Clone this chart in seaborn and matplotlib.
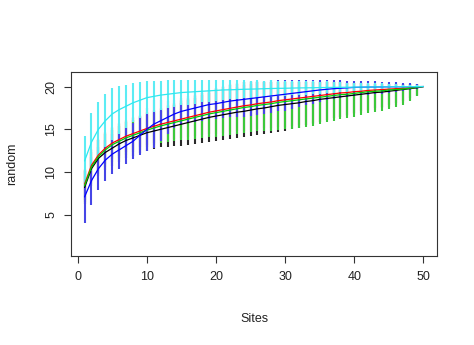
import matplotlib
matplotlib.use("Agg")
import matplotlib.pyplot as plt
import seaborn as sns
import pandas as pd

sites = list(range(1, 51))

series_names = ["black", "red", "green", "blue", "cyan"]
line_colors = ["#000000", "#ff0000", "#00cd00", "#0000ff", "#2ee8f0"]
bar_colors = ["#2a2a2a", "#f04040", "#3cc83c", "#4646e6", "#5cecf4"]

black_mean = [8.2, 10.4, 11.6, 12.3, 12.8, 13.3, 13.7, 14.0, 14.3, 14.6, 14.8, 15.0, 15.2, 15.4, 15.6, 15.8, 16.0, 16.2, 16.4, 16.55,
              16.7, 16.85, 17.0, 17.1, 17.25, 17.4, 17.5, 17.65, 17.8, 17.9, 18.0, 18.1, 18.25, 18.35, 18.5, 18.6, 18.7, 18.8, 18.9, 19.0,
              19.1, 19.2, 19.3, 19.35, 19.45, 19.55, 19.65, 19.75, 19.85, 20.0]
black_lo = [6.3, 8.4, 9.5, 10.2, 10.7, 11.2, 11.6, 11.9, 12.2, 12.5, 12.7, 12.9, 12.9, 13.0, 13.1, 13.2, 13.3, 13.4, 13.5, 13.6,
            13.7, 13.85, 14.0, 14.05, 14.2, 14.3, 14.4, 14.55, 14.7, 14.8, 15.0, 15.2, 15.45, 15.65, 15.9, 16.1, 16.3, 16.5, 16.7, 16.9,
            17.1, 17.3, 17.5, 17.65, 17.85, 18.05, 18.35, 18.65, 18.95, 20.0]
black_hi = [10.1, 12.4, 13.7, 14.4, 14.9, 15.4, 15.8, 16.1, 16.4, 16.7, 16.9, 17.1, 17.5, 17.8, 18.1, 18.4, 18.7, 19.0, 19.3, 19.5,
            19.7, 19.85, 20.0, 20.15, 20.3, 20.5, 20.55, 20.55, 20.55, 20.55, 20.55, 20.55, 20.55, 20.55, 20.55, 20.5, 20.5, 20.5, 20.45, 20.4,
            20.4, 20.35, 20.3, 20.3, 20.3, 20.3, 20.3, 20.3, 20.3, 20.0]

red_mean = [8.6, 10.8, 12.0, 12.8, 13.4, 13.8, 14.2, 14.5, 14.8, 15.1, 15.35, 15.6, 15.8, 16.0, 16.2, 16.4, 16.6, 16.8, 17.0, 17.15,
            17.3, 17.45, 17.6, 17.75, 17.85, 18.0, 18.1, 18.2, 18.35, 18.45, 18.55, 18.65, 18.75, 18.85, 18.95, 19.05, 19.15, 19.25, 19.3, 19.4,
            19.45, 19.55, 19.6, 19.65, 19.7, 19.75, 19.8, 19.85, 19.9, 20.0]
red_lo = [6.8, 8.9, 10.1, 10.9, 11.5, 11.9, 12.3, 12.6, 12.9, 13.2, 13.45, 13.7, 13.8, 13.9, 14.0, 14.1, 14.2, 14.3, 14.4, 14.45,
          14.55, 14.65, 14.75, 14.85, 14.95, 15.05, 15.1, 15.15, 15.25, 15.3, 15.35, 15.45, 15.55, 15.7, 15.9, 16.1, 16.3, 16.5, 16.6, 16.8,
          16.95, 17.15, 17.3, 17.45, 17.6, 17.85, 18.1, 18.45, 19.0, 20.0]
red_hi = [10.4, 12.7, 13.9, 14.7, 15.3, 15.7, 16.1, 16.4, 16.7, 17.0, 17.25, 17.5, 17.8, 18.1, 18.4, 18.7, 19.0, 19.3, 19.6, 19.85,
          20.05, 20.25, 20.45, 20.55, 20.55, 20.55, 20.55, 20.55, 20.55, 20.55, 20.55, 20.55, 20.55, 20.55, 20.55, 20.5, 20.5, 20.5, 20.45, 20.4,
          20.4, 20.35, 20.3, 20.3, 20.3, 20.3, 20.3, 20.3, 20.3, 20.0]

green_mean = [8.4, 10.6, 11.8, 12.6, 13.2, 13.6, 14.0, 14.3, 14.6, 14.9, 15.15, 15.4, 15.6, 15.8, 16.0, 16.2, 16.4, 16.6, 16.8, 16.95,
              17.1, 17.25, 17.4, 17.55, 17.65, 17.8, 17.9, 18.0, 18.15, 18.25, 18.35, 18.45, 18.55, 18.65, 18.75, 18.85, 18.95, 19.05, 19.1, 19.2,
              19.3, 19.4, 19.45, 19.5, 19.6, 19.65, 19.7, 19.8, 19.9, 20.0]
green_lo = [6.5, 8.6, 9.8, 10.6, 11.2, 11.6, 12.0, 12.3, 12.6, 12.9, 13.15, 13.4, 13.5, 13.6, 13.7, 13.8, 13.9, 14.0, 14.1, 14.15,
            14.25, 14.35, 14.45, 14.55, 14.65, 14.75, 14.8, 14.85, 14.95, 15.0, 15.05, 15.15, 15.25, 15.4, 15.6, 15.8, 16.0, 16.2, 16.3, 16.5,
            16.7, 16.9, 17.05, 17.2, 17.4, 17.65, 17.9, 18.3, 18.9, 20.0]
green_hi = [10.3, 12.6, 13.8, 14.6, 15.2, 15.6, 16.0, 16.3, 16.6, 16.9, 17.15, 17.4, 17.7, 18.0, 18.3, 18.6, 18.9, 19.2, 19.5, 19.75,
            19.95, 20.15, 20.35, 20.55, 20.55, 20.55, 20.55, 20.55, 20.55, 20.55, 20.55, 20.55, 20.55, 20.55, 20.55, 20.5, 20.5, 20.5, 20.45, 20.4,
            20.4, 20.35, 20.3, 20.3, 20.3, 20.3, 20.3, 20.3, 20.3, 20.0]

blue_mean = [7.1, 9.0, 10.4, 11.4, 12.1, 12.6, 13.1, 13.6, 14.3, 15.0, 15.6, 16.0, 16.4, 16.8, 17.1, 17.3, 17.5, 17.7, 17.9, 18.0,
             18.15, 18.3, 18.4, 18.5, 18.6, 18.7, 18.8, 18.9, 19.0, 19.1, 19.2, 19.3, 19.4, 19.5, 19.6, 19.68, 19.75, 19.8, 19.85, 19.9,
             19.92, 19.94, 19.95, 19.96, 19.97, 19.98, 19.98, 19.99, 19.99, 20.0]
blue_lo = [4.0, 6.2, 7.9, 9.0, 9.8, 10.4, 11.0, 11.5, 12.0, 12.5, 12.8, 13.6, 14.5, 15.2, 15.5, 15.7, 15.8, 16.0, 16.2, 16.2,
           16.35, 16.4, 16.5, 16.5, 16.6, 16.7, 16.8, 16.9, 17.1, 17.2, 17.4, 17.6, 17.8, 18.0, 18.2, 18.4, 18.55, 18.65, 18.75, 18.9,
           18.97, 19.04, 19.1, 19.16, 19.27, 19.38, 19.48, 19.59, 19.69, 20.0]
blue_hi = [10.2, 11.8, 12.9, 13.8, 14.4, 14.8, 15.2, 15.7, 16.6, 17.5, 18.4, 18.4, 18.3, 18.4, 18.7, 18.9, 19.2, 19.4, 19.6, 19.8,
           19.95, 20.2, 20.3, 20.5, 20.6, 20.65, 20.7, 20.75, 20.75, 20.8, 20.8, 20.8, 20.8, 20.8, 20.8, 20.78, 20.75, 20.72, 20.7, 20.68,
           20.66, 20.63, 20.6, 20.56, 20.52, 20.48, 20.43, 20.38, 20.29, 20.0]

cyan_mean = [11.3, 13.5, 15.0, 16.0, 16.8, 17.3, 17.7, 18.1, 18.4, 18.7, 18.85, 19.0, 19.1, 19.2, 19.3, 19.35, 19.4, 19.45, 19.5, 19.55,
             19.6, 19.62, 19.65, 19.68, 19.7, 19.72, 19.75, 19.77, 19.79, 19.8, 19.82, 19.84, 19.85, 19.86, 19.88, 19.89, 19.9, 19.91, 19.92, 19.93,
             19.94, 19.95, 19.96, 19.96, 19.97, 19.98, 19.98, 19.99, 19.99, 20.0]
cyan_lo = [8.4, 10.1, 11.8, 12.9, 13.8, 14.5, 15.2, 15.8, 16.3, 16.8, 17.05, 17.3, 17.45, 17.6, 17.8, 17.9, 18.0, 18.15, 18.25, 18.35,
           18.45, 18.52, 18.55, 18.63, 18.7, 18.72, 18.8, 18.82, 18.89, 18.9, 18.97, 19.04, 19.05, 19.11, 19.18, 19.19, 19.25, 19.31, 19.37, 19.43,
           19.44, 19.5, 19.56, 19.56, 19.62, 19.68, 19.73, 19.79, 19.84, 20.0]
cyan_hi = [14.2, 16.9, 18.2, 19.1, 19.8, 20.1, 20.2, 20.4, 20.5, 20.6, 20.65, 20.7, 20.75, 20.8, 20.8, 20.8, 20.8, 20.75, 20.75, 20.75,
           20.75, 20.72, 20.75, 20.73, 20.7, 20.72, 20.7, 20.72, 20.69, 20.7, 20.67, 20.64, 20.65, 20.61, 20.58, 20.59, 20.55, 20.51, 20.47, 20.43,
           20.44, 20.4, 20.36, 20.36, 20.32, 20.28, 20.23, 20.19, 20.14, 20.0]

x_ticks = [0, 10, 20, 30, 40, 50]
y_ticks = [5, 10, 15, 20]
x_label = "Sites"
y_label = "random"

means = [black_mean, red_mean, green_mean, blue_mean, cyan_mean]
lows = [black_lo, red_lo, green_lo, blue_lo, cyan_lo]
highs = [black_hi, red_hi, green_hi, blue_hi, cyan_hi]

sns.set_style("white")
plt.rcParams["font.family"] = ["Liberation Sans", "DejaVu Sans"]

fig = plt.figure(figsize=(4.74, 3.45), dpi=100)
ax = fig.add_axes([71 / 474, 1 - 256 / 345, 366 / 474, 184 / 345])

# error bars first (in drawing order), then all curves on top
for lo, hi, bc in zip(lows, highs, bar_colors):
    ax.vlines(sites, lo, hi, colors=bc, linewidth=1.5, zorder=2)

frames = []
for name, m in zip(series_names, means):
    frames.append(pd.DataFrame({"Sites": sites, "richness": m, "series": name}))
df = pd.concat(frames, ignore_index=True)
sns.lineplot(data=df, x="Sites", y="richness", hue="series", palette=dict(zip(series_names, line_colors)),
             hue_order=series_names, linewidth=0.9, legend=False, ax=ax, zorder=3)

ax.set_xlim(-0.96, 51.96)
ax.set_ylim(0.2, 21.7)
ax.set_xticks(x_ticks)
ax.set_yticks(y_ticks)
ax.set_xticklabels([str(t) for t in x_ticks], fontsize=9)
ax.set_yticklabels([str(t) for t in y_ticks], fontsize=9, rotation=90, va="center")
ax.tick_params(axis="both", which="major", bottom=True, left=True, direction="out", length=5,
               width=0.8, color="#333333", labelcolor="#222222")
ax.tick_params(axis="x", pad=6)
ax.tick_params(axis="y", pad=5)
for sp in ax.spines.values():
    sp.set_visible(True)
    sp.set_color("#333333")
    sp.set_linewidth(0.8)

ax.set_xlabel(x_label, fontsize=9, color="#222222")
ax.set_ylabel(y_label, fontsize=9, color="#222222")
ax.xaxis.label.set_va("center")
ax.yaxis.label.set_va("center")
ax.xaxis.set_label_coords(0.5, -0.342)
ax.yaxis.set_label_coords(-0.161, 0.5)

fig.savefig("out.png", dpi=100)
